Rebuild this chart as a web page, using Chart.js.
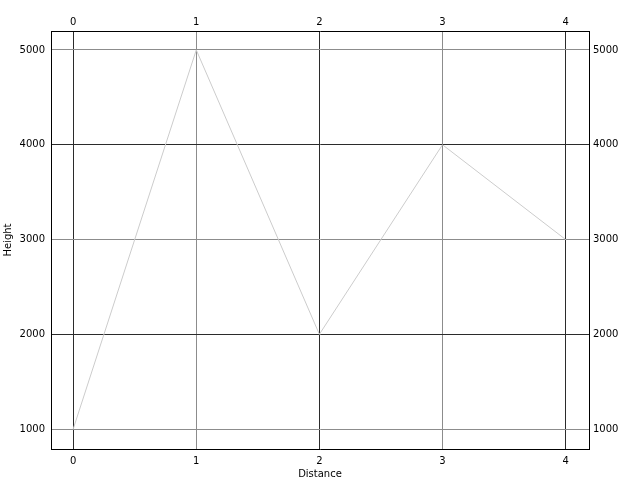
<!DOCTYPE html>
<html>
<head>
<meta charset="utf-8">
<script src="https://cdn.jsdelivr.net/npm/chart.js@4"></script>
<style>
  body { margin: 0; background: #fff; }
  canvas { display: block; }
</style>
</head>
<body>
<canvas id="chart" width="640" height="480"></canvas>
<script>
// data
var distances = [0, 1, 2, 3, 4];
var heights = [1000, 5000, 2000, 4000, 3000];
var xTicks = [0, 1, 2, 3, 4];
var yTicks = [1000, 2000, 3000, 4000, 5000];

const tickFont = { family: "DejaVu Sans", size: 10 };

// even steps get the dark line, odd ones the grey line
function xGrid(c) { return c.tick && c.tick.value % 2 === 0 ? "#2b2b2b" : "#8c8c8c"; }
function yGrid(c) { return c.tick && (c.tick.value / 1000) % 2 === 0 ? "#2b2b2b" : "#8c8c8c"; }

function fixTicks(vals) {
  return function (scale) { scale.ticks = vals.map(v => ({ value: v })); };
}
function fixWidth(w) { return function (scale) { scale.width = w; }; }
function fixHeight(h) { return function (scale) { scale.height = h; }; }
const plain = v => String(v);

const ctx = document.getElementById("chart").getContext("2d");

new Chart(ctx, {
  type: "line",
  data: {
    datasets: [{
      data: distances.map((d, i) => ({ x: d, y: heights[i] })),
      borderColor: "#cccccc",
      borderWidth: 1,
      pointRadius: 0,
      tension: 0,
      fill: false
    }]
  },
  options: {
    responsive: false,
    animation: false,
    maintainAspectRatio: false,
    layout: { padding: 0 },
    plugins: { legend: { display: false }, tooltip: { enabled: false } },
    scales: {
      x: {
        type: "linear",
        position: "bottom",
        min: -0.18,
        max: 4.19,
        afterBuildTicks: fixTicks(xTicks),
        afterFit: fixHeight(31),
        ticks: { color: "#000", font: tickFont, padding: 6, maxRotation: 0, callback: plain },
        grid: { color: xGrid, drawTicks: false },
        border: { display: true, color: "#000", width: 1 },
        title: { display: true, text: "Distance", color: "#000", font: tickFont, padding: { top: 3, bottom: 0 } }
      },
      x2: {
        type: "linear",
        position: "top",
        min: -0.18,
        max: 4.19,
        afterBuildTicks: fixTicks(xTicks),
        afterFit: fixHeight(31),
        ticks: { color: "#000", font: tickFont, padding: 3, maxRotation: 0, callback: plain },
        grid: { display: false, drawTicks: false },
        border: { display: true, color: "#000", width: 1 }
      },
      y: {
        type: "linear",
        position: "left",
        min: 790,
        max: 5200,
        afterBuildTicks: fixTicks(yTicks),
        afterFit: fixWidth(51),
        ticks: { color: "#000", font: tickFont, padding: 6, callback: plain },
        grid: { color: yGrid, drawTicks: false },
        border: { display: true, color: "#000", width: 1 },
        title: { display: true, text: "Height", color: "#000", font: tickFont, padding: { top: 2, bottom: 2 } }
      },
      y2: {
        type: "linear",
        position: "right",
        min: 790,
        max: 5200,
        afterBuildTicks: fixTicks(yTicks),
        afterFit: fixWidth(51),
        ticks: { color: "#000", font: tickFont, padding: 4, callback: plain },
        grid: { display: false, drawTicks: false },
        border: { display: true, color: "#000", width: 1 }
      }
    }
  }
});
</script>
</body>
</html>
